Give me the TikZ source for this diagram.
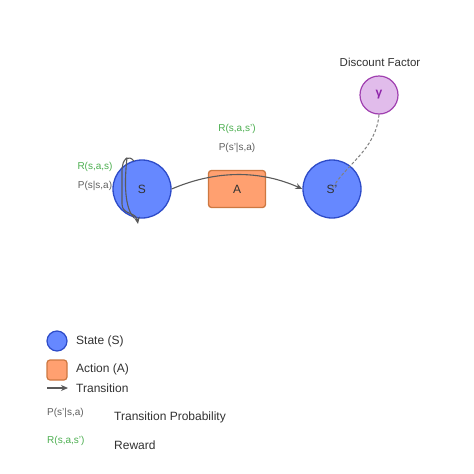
\documentclass[tikz,border=0pt]{standalone}
\usepackage{fontspec}
\setmainfont{Liberation Sans}
\usetikzlibrary{arrows.meta}
\definecolor{sfill}{RGB}{102,136,255}
\definecolor{sdraw}{RGB}{45,75,200}
\definecolor{afill}{RGB}{255,160,112}
\definecolor{adraw}{RGB}{205,120,65}
\definecolor{gfill}{RGB}{225,188,235}
\definecolor{gdraw}{RGB}{160,64,176}
\definecolor{gtext}{RGB}{142,36,170}
\definecolor{rgreen}{RGB}{76,175,80}
\definecolor{pgrey}{RGB}{95,95,95}
\definecolor{edge}{RGB}{90,90,90}
\definecolor{txt}{RGB}{50,50,50}
\begin{document}
\begin{tikzpicture}[x=1pt,y=-1pt,
  statebox/.style={circle,draw=sdraw,fill=sfill,line width=1.3pt,minimum size=58pt,inner sep=0pt,font=\fontsize{12}{14}\selectfont,text=txt},
  actionbox/.style={rectangle,rounded corners=3pt,draw=adraw,fill=afill,line width=1.3pt,minimum width=57pt,minimum height=37pt,inner sep=0pt,font=\fontsize{12}{14}\selectfont,text=txt},
  gammabox/.style={circle,draw=gdraw,fill=gfill,line width=1.2pt,minimum size=38pt,inner sep=0pt,font=\bfseries\fontsize{12}{14}\selectfont,text=gtext},
  rlabel/.style={font=\fontsize{10}{12}\selectfont,text=rgreen,inner sep=0pt},
  plabel/.style={font=\fontsize{10}{12}\selectfont,text=pgrey,inner sep=0pt},
  legtext/.style={font=\fontsize{12}{14}\selectfont,text=txt,anchor=west,inner sep=0pt},
  trans/.style={draw=edge,line width=1.1pt,-{Stealth[length=7pt,width=6pt]}},
  plainedge/.style={draw=edge,line width=1.1pt},
  dashedge/.style={draw=gray,line width=1pt,dash pattern=on 3pt off 2pt}]
\useasboundingbox (0,0) rectangle (474,474);
\fill[white] (0,0) rectangle (474,474);

% nodes
\node[statebox] (S) at (142,189) {S};
\node[statebox] (Sp) at (332,189) {S'};
\node[actionbox] (A) at (237,189) {A};
\node[gammabox] (G) at (379,95) {γ};
\node[font=\fontsize{11.5}{14}\selectfont,text=txt] (df) at (380,62) {Discount Factor};

% labels
\node[rlabel] (r1) at (95,167) {R(s,a,s)};
\node[plabel] (p1) at (95,186) {P(s|s,a)};
\node[rlabel] (r2) at (237,129) {R(s,a,s')};
\node[plabel] (p2) at (237,148) {P(s'|s,a)};

% self loop
\coordinate (loopA) at (134,161);
\coordinate (loopB) at (138,224);
\coordinate (loopC) at (127,157.5);
\coordinate (loopD) at (134,218);
\draw[trans] (loopA) .. controls (129,155) and (122,157) .. (122,172)
  -- (122,204) .. controls (122,215) and (136,212) .. (loopB);
\draw[plainedge] (loopC) .. controls (124,185) and (125,208) .. (loopD);

% transitions
\draw[trans] (S.east) .. controls (216,170) and (260,170) .. (Sp.west);
\draw[dashedge] (G.south) .. controls (376,150) and (345,165) .. (Sp.center);

% legend
\node[circle,draw=sdraw,fill=sfill,line width=1.2pt,minimum size=20pt,inner sep=0pt] (ls) at (57,341) {};
\node[legtext] (lst) at (76,341) {State (S)};
\node[rectangle,rounded corners=3pt,draw=adraw,fill=afill,line width=1.2pt,minimum size=20pt,inner sep=0pt] (la) at (57,370) {};
\node[legtext] (lat) at (76,369) {Action (A)};
\coordinate (lt1) at (47,388);
\coordinate (lt2) at (68,388);
\draw[trans] (lt1) -- (lt2);
\node[legtext] (ltt) at (76,388) {Transition};
\node[plabel,anchor=west] (lp) at (47,413) {P(s'|s,a)};
\node[legtext] (lpt) at (114,417) {Transition Probability};
\node[rlabel,anchor=west] (lr) at (47,441) {R(s,a,s')};
\node[legtext] (lrt) at (114,445) {Reward};
\end{tikzpicture}
\end{document}
